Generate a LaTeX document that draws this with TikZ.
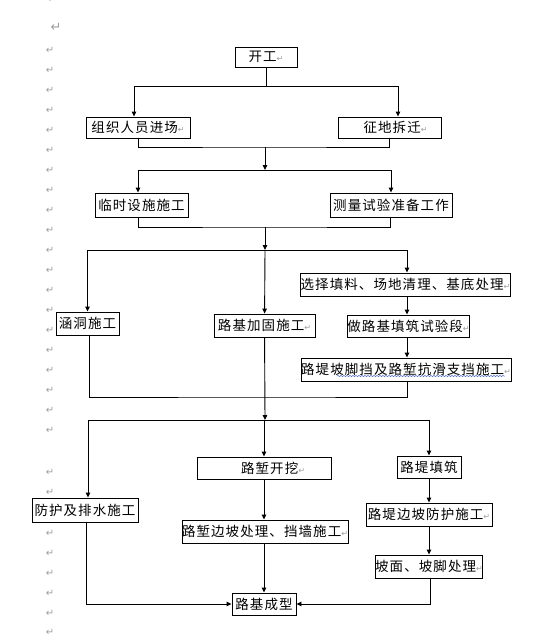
\documentclass[tikz,border=0pt]{standalone}
\usepackage{fontspec}
\usepackage{xcolor}
\usetikzlibrary{arrows.meta,decorations.pathmorphing}
\newfontfamily\cjk[LetterSpace=8]{Noto Sans CJK SC}
\newfontfamily\symfont{DejaVu Sans}
\definecolor{markgray}{rgb}{0.62,0.62,0.62}
\definecolor{wavyblue}{rgb}{0.35,0.45,0.80}
\newcommand{\rmk}{\textcolor{markgray}{\symfont\fontsize{8}{8}\selectfont ↵}}

\begin{document}
\begin{tikzpicture}[x=1pt,y=-1pt,
    box/.style={draw, fill=white, line width=0.9pt, inner sep=0pt,
        font=\cjk\fontsize{13.5}{14}\selectfont},
    flow/.style={line width=0.9pt, -{Triangle[length=5pt,width=4.5pt]}},
    link/.style={line width=0.9pt},
    parmark/.style={text=markgray, inner sep=0pt,
        font=\symfont\fontsize{10}{10}\selectfont}]
    \useasboundingbox (0,0) rectangle (551,640);

    % paragraph marks in the margin
    \node[parmark] at (52,-1) {↵};
    \node[parmark, font=\symfont\fontsize{13}{13}\selectfont] at (56,27) {↵};
    \foreach \y in {50,70,...,430,472,492,533,553,573,593,613,632}
        \node[parmark] at (50,\y) {↵};

    % boxes: name/x/y/width/height/text
    \foreach \n/\x/\y/\w/\h/\t in {
        kg/266/57/62/20/{开工\rmk},
        zz/138/127.5/104/21/{组织人员进场\rmk},
        zd/389.5/127.5/103/21/{\hspace{12pt}征地拆迁\rmk},
        ls/141.5/205/93/24/{临时设施施工},
        cl/391/205/122/24/{测量试验准备工作},
        hd/87.5/323.5/63/23/{涵洞施工},
        jg/264.5/325.5/101/23/{路基加固施工\rmk},
        xz/405.5/284.5/207/23/{选择填料、场地清理、基底处理\rmk},
        sy/408.5/326/121/22/{做路基填筑试验段\rmk},
        dj/406/369.5/210/23/{路堤坡脚挡及路堑抗滑支挡施工\rmk},
        fh/85/510/106/24/{防护及排水施工},
        wk/264/468/134/22/{\hspace{18pt}路堑开挖\rmk},
        tz/429/467/64/22/{路堤填筑},
        bp/265/531.5/166/23/{路堑边坡处理、挡墙施工\rmk},
        dh/429/514.5/126/23/{路堤边坡防护施工\rmk},
        pm/429/566.5/106/23/{坡面、坡脚处理\rmk},
        cx/264/604/64/22/{路基成型}}
        \node[box, minimum width=\w pt, minimum height=\h pt] (\n) at (\x,\y) {\t};

    \draw[wavyblue, line width=0.5pt, decorate,
        decoration={snake, amplitude=0.7pt, segment length=3pt}]
        (337,376) -- (505,376);

    % junctions
    \coordinate (j1) at (266,86);
    \coordinate (m1) at (265,147);
    \coordinate (j2) at (265,170);
    \coordinate (m2) at (265,227);
    \coordinate (j3) at (265,250);
    \coordinate (m3) at (265,397);
    \coordinate (j4) at (265,420);

    \draw[link] (kg) -- (j1);
    \draw[flow] (j1) -| ([xshift=-4pt]zz.north);
    \draw[flow] (j1) -| ([xshift=8.5pt]zd.north);

    \draw[link] (zz) |- (m1) -| (zd);
    \draw[flow] (m1) -- (j2);
    \draw[flow] (j2) -| ([xshift=-3.5pt]ls.north);
    \draw[flow] (j2) -| (cl);

    \draw[link] ([xshift=-3.5pt]ls.south) |- (m2) -| ([xshift=-1pt]cl.south);
    \draw[flow] (m2) -- (j3);
    \draw[flow] (j3) -| (hd);
    \draw[flow] (j3) -- (jg);
    \draw[flow] (j3) -| ([xshift=1.5pt]xz.north);
    \draw[flow] ([xshift=1.5pt]xz.south) -- ([xshift=-1.5pt]sy.north);
    \draw[flow] ([xshift=-1.5pt]sy.south) -- ([xshift=1pt]dj.north);

    \draw[link] ([xshift=1.5pt]hd.south) |- (m3) -| ([xshift=1pt]dj.south);
    \draw[flow] (jg) -- (j4);
    \draw[flow] (j4) -| ([xshift=3pt]fh.north);
    \draw[flow] (j4) -| (wk);
    \draw[flow] (j4) -| (tz);

    \draw[flow] (wk) -- (wk |- bp.north);
    \draw[flow] (bp.south -| wk) -- (cx);
    \draw[flow] (tz) -- (dh);
    \draw[flow] (dh) -- (pm);
    \draw[flow] ([xshift=1pt]fh.south) |- (cx);
    \draw[flow] ([xshift=1pt]pm.south) |- (cx);
\end{tikzpicture}
\end{document}
